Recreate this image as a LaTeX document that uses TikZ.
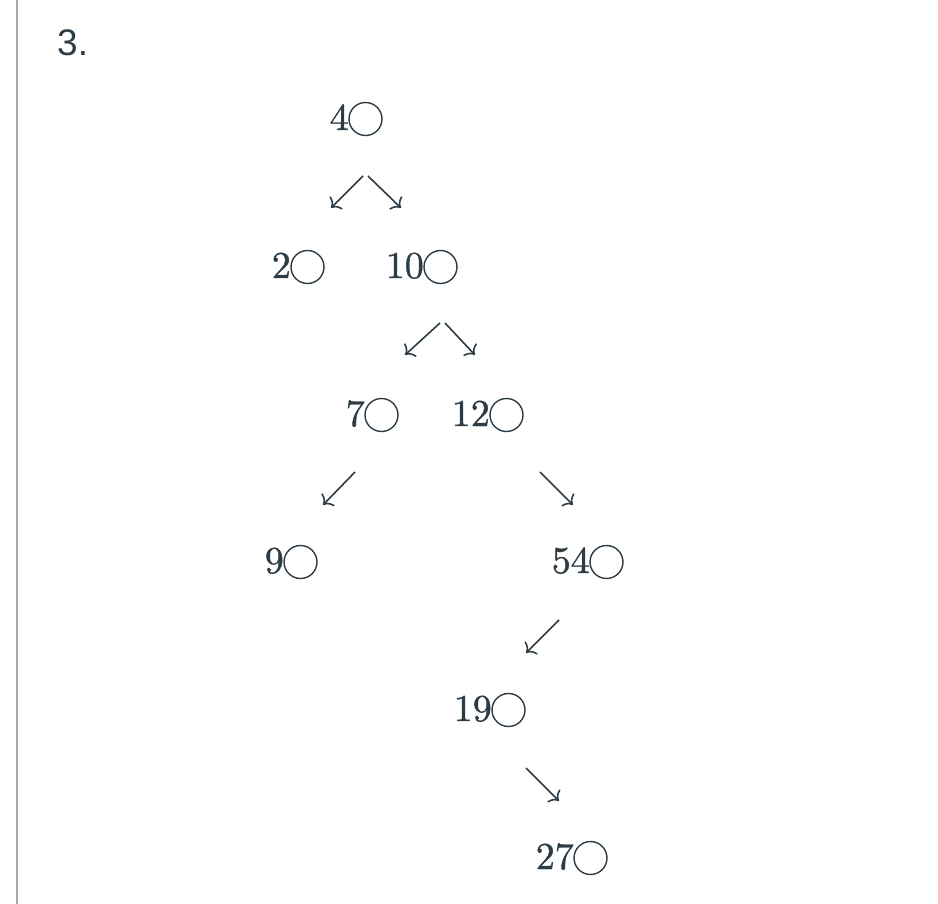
\documentclass[tikz,border=0pt]{standalone}
\usepackage{fontspec}
\newfontfamily\labelfont{Liberation Sans}
\newfontfamily\numfont{lmroman10-regular}[Extension=.otf,FakeBold=1]
\usetikzlibrary{arrows.meta}
\definecolor{ink}{HTML}{2D3B45}
\definecolor{rule}{HTML}{A8A8A8}
\tikzset{
  num/.style={anchor=base east, inner sep=0pt, text=ink, font=\numfont\fontsize{38}{40}\selectfont},
  ring/.style={circle, draw=ink, line width=1.4pt, minimum size=33pt, inner sep=0pt},
  arr/.style={draw=ink, line width=1.6pt, -{To[length=8pt,width=18pt]}}
}
\begin{document}
\begin{tikzpicture}[x=1pt,y=-1pt]
\useasboundingbox (0,0) rectangle (938,904);
\draw[rule, line width=2pt] (16.5,0) coordinate (top) -- (16.5,904) coordinate (bot);
\node[anchor=base west, inner sep=0pt, text=ink, font=\labelfont\fontsize{37}{40}\selectfont] (title) at (57,56) {3.};
% nodes
\node[num] (n4) at (349,130) {4};   \node[ring] (c4) at (365.5,119) {};
\node[num] (n2) at (291,278) {2};   \node[ring] (c2) at (307.5,267) {};
\node[num] (n10) at (424,278) {10}; \node[ring] (c10) at (440.5,267) {};
\node[num] (n7) at (365,426) {7};   \node[ring] (c7) at (381.5,415) {};
\node[num] (n12) at (490,426) {12}; \node[ring] (c12) at (506.5,415) {};
\node[num] (n9) at (284,573) {9};   \node[ring] (c9) at (300.5,562) {};
\node[num] (n54) at (590,573) {54}; \node[ring] (c54) at (606.5,562) {};
\node[num] (n19) at (492,721) {19}; \node[ring] (c19) at (508.5,710) {};
\node[num] (n27) at (574,869) {27}; \node[ring] (c27) at (590.5,858) {};
% arrow endpoints
\coordinate (a1s) at (363,176); \coordinate (a1e) at (331,208);
\coordinate (a2s) at (368,176); \coordinate (a2e) at (401,208);
\coordinate (a3s) at (440,323); \coordinate (a3e) at (405,355);
\coordinate (a4s) at (445,323); \coordinate (a4e) at (475,355);
\coordinate (a5s) at (355,472); \coordinate (a5e) at (323,505);
\coordinate (a6s) at (540,472); \coordinate (a6e) at (573,505);
\coordinate (a7s) at (559,620); \coordinate (a7e) at (526,653);
\coordinate (a8s) at (526,768); \coordinate (a8e) at (559,801);
\draw[arr] (a1s) -- (a1e);
\draw[arr] (a2s) -- (a2e);
\draw[arr] (a3s) -- (a3e);
\draw[arr] (a4s) -- (a4e);
\draw[arr] (a5s) -- (a5e);
\draw[arr] (a6s) -- (a6e);
\draw[arr] (a7s) -- (a7e);
\draw[arr] (a8s) -- (a8e);
\end{tikzpicture}
\end{document}
